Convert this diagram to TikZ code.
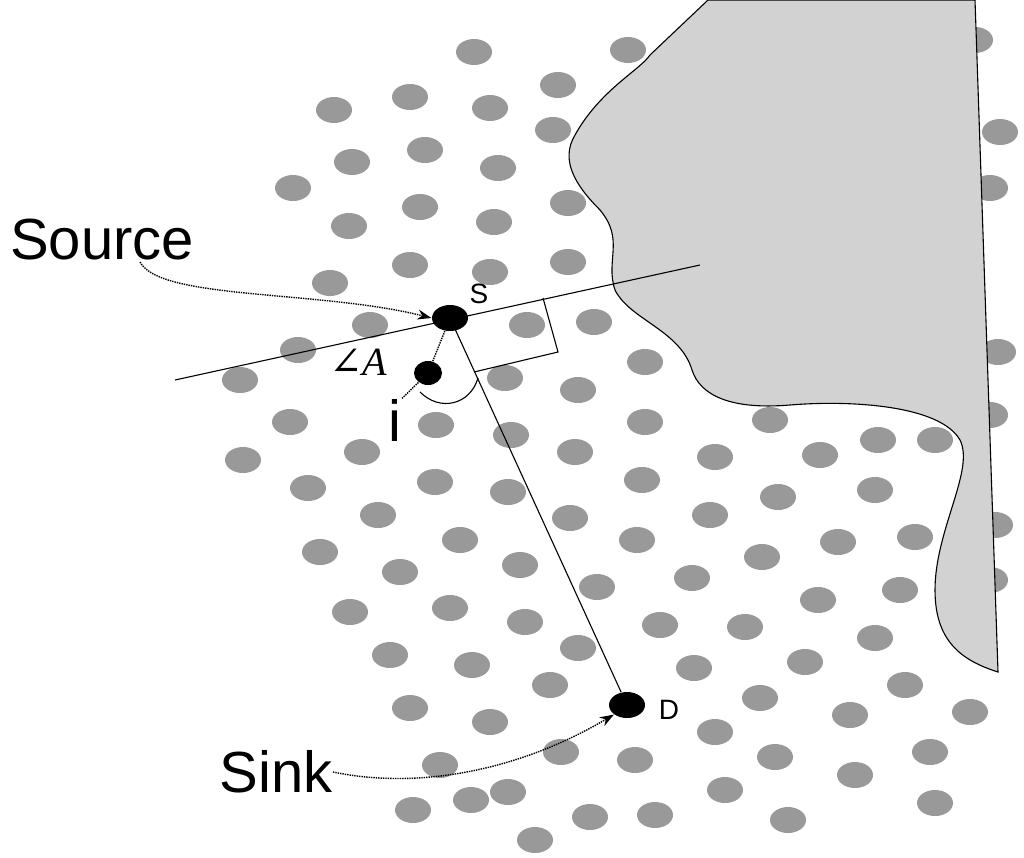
\documentclass[tikz,border=0pt]{standalone}
\usepackage{fontspec}
\setmainfont{Liberation Sans}
\newfontfamily\djs{DejaVu Serif}
\newfontfamily\lser{Liberation Serif}
\usetikzlibrary{shapes.geometric,arrows.meta}
\begin{document}
\begin{tikzpicture}[x=1pt,y=-1pt,line width=1.1pt,
  dot/.style={fill=gray!80,draw=none},
  bdot/.style={fill=black,draw=none},
  lbl/.style={font=\fontsize{58}{64}\selectfont,inner sep=0pt},
  slbl/.style={font=\fontsize{28}{32}\selectfont,inner sep=0pt},
  darrow/.style={densely dotted,line width=1.4pt,-{Stealth[length=14pt,width=10pt]}}]
\useasboundingbox (0,0) rectangle (1024,857);
\foreach \x/\y in {474/52,628/50,334/110,410/97,490/108,558/85,553/130,352/162,425/150,498/168,293/188,349/226,420/207,494/222,568/203,568/262,410/265,490/272,330/283,370/325,527/325,594/322,298/350,240/380,505/378,578/390,645/362,290/422,436/425,511/435,575/452,645/422,243/460,362/452,308/488,435/482,508/492,642/480,715/457,770/420,820/455,878/440,935/440,378/515,460/540,570/518,710/515,778/497,875/490,320/552,400/572,520/565,637/540,762/557,838/542,915/537,350/612,450/608,525/622,597/587,692/578,818/600,900/590,390/655,472/665,578/648,660/625,745/627,875/638,410/708,490/722,550/685,694/668,760/698,805/662,905/685,970/712,440/765,508/792,561/752,635/760,715/732,775/757,850/715,930/752,413/810,471/800,535/840,590/817,655/815,725/790,788/820,855/775,935/803,1000/132,990/188,998/352,990/415,995/525,990/580,975/40}
  \fill[dot] (\x,\y) ellipse (18 and 13);
\draw[fill=gray!35] (708,0) -- (975,0) -- (998,672)
  .. controls (960,660) and (935,640) .. (935,590)
  .. controls (935,530) and (975,470) .. (960,440)
  .. controls (940,405) and (850,400) .. (790,405)
  .. controls (730,410) and (700,395) .. (692,370)
  .. controls (680,330) and (630,320) .. (615,290)
  .. controls (605,260) and (625,240) .. (600,210)
  .. controls (575,185) and (560,160) .. (575,135)
  .. controls (600,90) and (640,70) .. (650,55)
  -- cycle;
\coordinate (L1) at (175,380); \coordinate (L2) at (700,265);
\draw (L1) -- (L2);
\node[bdot,ellipse,minimum width=36,minimum height=26] (S) at (450,318) {};
\node[bdot,ellipse,minimum width=28,minimum height=24] (I) at (428,373) {};
\node[bdot,ellipse,minimum width=36,minimum height=26] (D) at (627,705) {};
\draw (S.center) -- (D);
\coordinate (r1) at (474,372); \coordinate (r2) at (558,352); \coordinate (r3) at (543,298);
\draw (r1) -- (r2) -- (r3);
\draw[densely dotted,line width=1.4pt] (S) -- (I);
\draw (420,392) .. controls (440,412) and (470,405) .. (478,378);
\node[slbl] (sl) at (479,294) {S};
\node[slbl] (dl) at (669,710) {D};
\node[inner sep=0pt,font=\fontsize{40}{44}\selectfont] (A) at (358,362) {{\djs ∠}{\lser\itshape A}};
\node[lbl] (il) at (395,420) {i};
\draw[densely dotted,line width=1.4pt] (I) -- (il.north east);
\node[lbl] (src) at (102,240) {Source};
\node[lbl] (snk) at (276,772) {Sink};
\draw[darrow] (140,262) .. controls (160,300) and (320,290) .. (S.west);
\draw[darrow] (snk.east) .. controls (420,790) and (520,770) .. (D.south west);
\end{tikzpicture}
\end{document}
